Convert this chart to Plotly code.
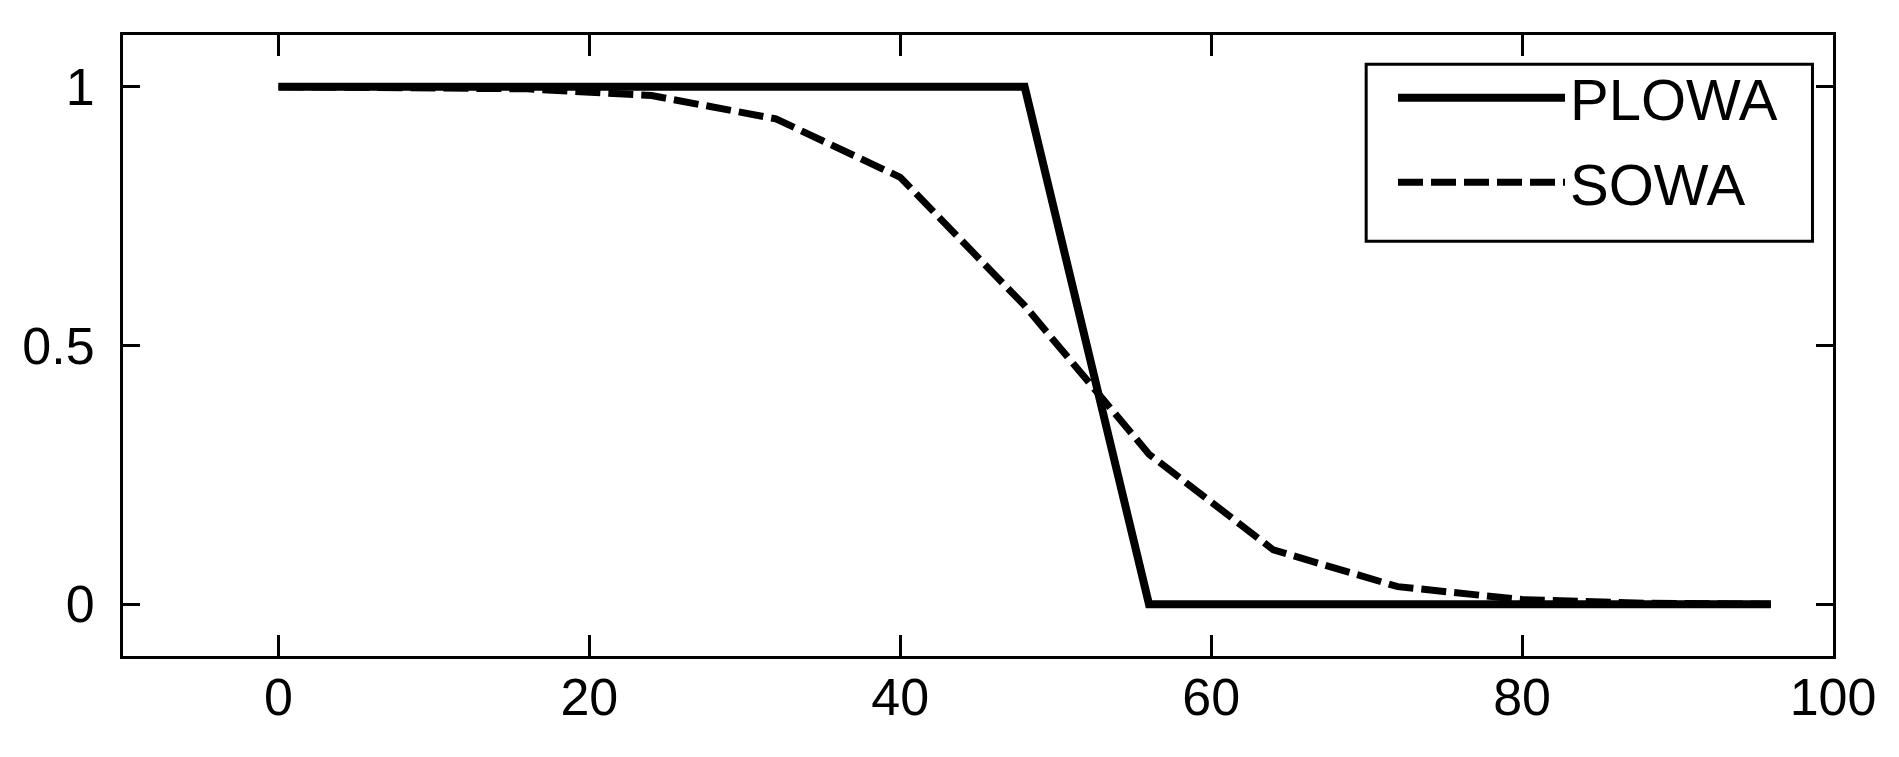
import plotly.graph_objects as go

# PLOWA: piecewise linear step-down
plowa_x = [0, 48, 56, 96]
plowa_y = [1.0, 1.0, 0.0, 0.0]

# SOWA: smooth decay, sampled every 8 units
sowa_x = [0, 8, 16, 24, 32, 40, 48, 56, 64, 72, 80, 88, 96]
sowa_y = [1.0, 0.999, 0.996, 0.983, 0.938, 0.825, 0.577, 0.29, 0.105, 0.034, 0.009, 0.002, 0.0]

x_ticks = [0, 20, 40, 60, 80, 100]
y_ticks = [0, 0.5, 1]
y_tick_text = ['0', '0.5', '1']

FONT = 'Liberation Sans, Arial, sans-serif'

fig = go.Figure()

fig.add_trace(
    go.Scatter(
        x=plowa_x,
        y=plowa_y,
        mode='lines',
        line=dict(color='black', width=8),
        name='PLOWA',
        legendgroup='a',
    )
)

fig.add_trace(
    go.Scatter(
        x=sowa_x,
        y=sowa_y,
        mode='lines',
        line=dict(color='black', width=7, dash='25px,8px'),
        name='SOWA',
        legendgroup='b',
    )
)

# legend frame drawn as a shape so the padding matches the reference
fig.add_shape(
    type='rect',
    xref='paper', yref='paper',
    x0=0.727, x1=0.988, y0=0.668, y1=0.953,
    line=dict(color='black', width=3),
    fillcolor='white',
    layer='above',
)

fig.update_layout(
    width=1899,
    height=757,
    margin=dict(l=115, r=74, t=27, b=109),
    paper_bgcolor='white',
    plot_bgcolor='white',
    font=dict(family=FONT, size=52, color='black'),
    showlegend=True,
    legend=dict(
        x=0.7427,
        y=0.97,
        xanchor='left',
        yanchor='top',
        bgcolor='rgba(0,0,0,0)',
        borderwidth=0,
        itemwidth=167,
        tracegroupgap=6,
        font=dict(family=FONT, size=58, color='black'),
    ),
    xaxis=dict(
        range=[-10, 100],
        tickvals=x_ticks,
        ticks='inside',
        ticklen=21,
        tickwidth=3,
        tickcolor='black',
        showline=True,
        linecolor='black',
        linewidth=3,
        mirror='allticks',
        showgrid=False,
        zeroline=False,
        automargin=False,
        ticklabelstandoff=-6,
    ),
    yaxis=dict(
        range=[-0.1, 1.1],
        tickvals=y_ticks,
        ticktext=y_tick_text,
        ticks='inside',
        ticklen=17,
        tickwidth=3,
        tickcolor='black',
        showline=True,
        linecolor='black',
        linewidth=3,
        mirror='allticks',
        showgrid=False,
        zeroline=False,
        automargin=False,
        ticklabelstandoff=15,
    ),
)

fig.write_html('out.html')
